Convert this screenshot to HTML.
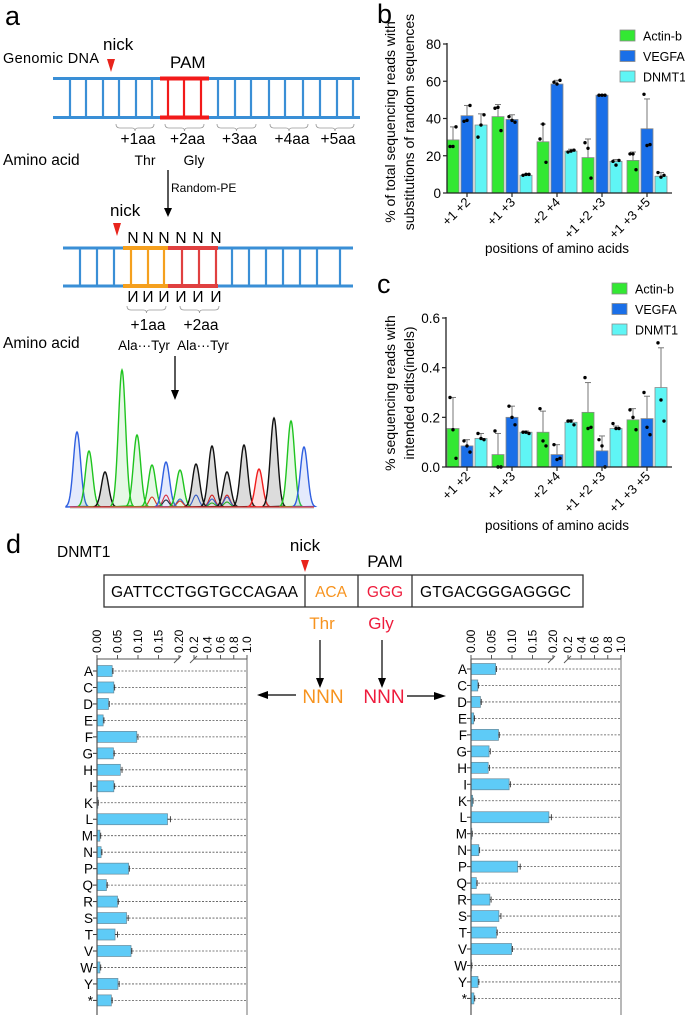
<!DOCTYPE html>
<html><head><meta charset="utf-8"><style>
html,body{margin:0;padding:0;background:#fff;}
svg{display:block;font-family:"Liberation Sans",Arial,sans-serif;}
</style></head><body>
<svg id="fig" width="685" height="1015" viewBox="0 0 685 1015" xmlns="http://www.w3.org/2000/svg">
<g id="pa">
<text x="5" y="25" font-size="27">a</text>
<text x="3" y="63" font-size="14.5" textLength="96">Genomic DNA</text>
<text x="103" y="50" font-size="17">nick</text>
<path d="M107,59 L115,59 L111,72 Z" fill="#e8241c"/>
<text x="170" y="68" font-size="17">PAM</text>
<text x="3" y="165" font-size="15.5">Amino acid</text>
<text x="145" y="165" font-size="14" text-anchor="middle">Thr</text>
<text x="194" y="165" font-size="14" text-anchor="middle">Gly</text>
<line x1="168" y1="170" x2="168" y2="210" stroke="#000" stroke-width="1.3"/>
<path d="M164,208 L172,208 L168,217 Z" fill="#000"/>
<text x="171" y="192" font-size="12">Random-PE</text>
<text x="110" y="216" font-size="17">nick</text>
<path d="M113,223 L121,223 L117,236 Z" fill="#e8241c"/>
<text x="3" y="348" font-size="15.5">Amino acid</text>
<text x="144" y="350" font-size="13.5" text-anchor="middle">Ala···Tyr</text>
<text x="203" y="350" font-size="13.5" text-anchor="middle">Ala···Tyr</text>
<text x="148" y="330" font-size="15.5" text-anchor="middle">+1aa</text>
<text x="201" y="330" font-size="15.5" text-anchor="middle">+2aa</text>
<line x1="175" y1="356" x2="175" y2="392" stroke="#000" stroke-width="1.3"/>
<path d="M171,390 L179,390 L175,400 Z" fill="#000"/>
<g id="dna1"></g>
<g id="dna2"></g>
<g id="chrom"></g>
</g>
<g id="pb">
<text x="377" y="23" font-size="27">b</text>
</g>
<g id="pc">
<text x="377" y="293" font-size="27">c</text>
</g>
<g id="pd">
<text x="6" y="553" font-size="27">d</text>
<text x="57" y="557" font-size="15.5">DNMT1</text>
<text x="305" y="551" font-size="17" text-anchor="middle">nick</text>
<path d="M301,560 L309,560 L305,572 Z" fill="#e8241c"/>
<text x="385" y="567" font-size="17" text-anchor="middle">PAM</text>
<rect x="104" y="575" width="479" height="32" fill="none" stroke="#333" stroke-width="1.3"/>
<line x1="305" y1="575" x2="305" y2="607" stroke="#333" stroke-width="1.3"/>
<line x1="358" y1="575" x2="358" y2="607" stroke="#333" stroke-width="1.3"/>
<line x1="412" y1="575" x2="412" y2="607" stroke="#333" stroke-width="1.3"/>
<text x="111" y="597" font-size="15.5" textLength="187">GATTCCTGGTGCCAGAA</text>
<text x="331" y="597" font-size="15.5" text-anchor="middle" fill="#f7931e">ACA</text>
<text x="385" y="597" font-size="15.5" text-anchor="middle" fill="#ee1c3c">GGG</text>
<text x="420" y="597" font-size="15.5" textLength="151">GTGACGGGAGGGC</text>
<text x="322" y="629" font-size="17" text-anchor="middle" fill="#f7931e">Thr</text>
<text x="381" y="629" font-size="17" text-anchor="middle" fill="#ee1c3c">Gly</text>
<line x1="320" y1="640" x2="320" y2="680" stroke="#000" stroke-width="1.2"/>
<path d="M316,678 L324,678 L320,688 Z" fill="#000"/>
<line x1="382" y1="640" x2="382" y2="680" stroke="#000" stroke-width="1.2"/>
<path d="M378,678 L386,678 L382,688 Z" fill="#000"/>
<text x="323" y="703" font-size="19" text-anchor="middle" fill="#f7931e">NNN</text>
<text x="384" y="703" font-size="19" text-anchor="middle" fill="#ee1c3c">NNN</text>
<line x1="296" y1="695" x2="266" y2="695" stroke="#000" stroke-width="1.2"/>
<path d="M268,691 L268,699 L257,695 Z" fill="#000"/>
<line x1="407" y1="696" x2="436" y2="696" stroke="#000" stroke-width="1.2"/>
<path d="M434,692 L434,700 L446,696 Z" fill="#000"/>
</g>
</svg>
<script>
// ---------- Panel b / c data ----------
var groups = ["+1 +2","+1 +3","+2 +4","+1 +2 +3","+1 +3 +5"];
var seriesNames = ["Actin-b","VEGFA","DNMT1"];
var bActin = [28.5,41,27.5,19,17.5];
var bVEGFA = [41.5,39.5,58.5,52.5,34.5];
var bDNMT1 = [36.5,9.5,22.5,17,9];
var bActinErr = [7,6.5,9.5,10,4.5];
var bVEGFAErr = [5.5,2.5,2,0.3,16];
var bDNMT1Err = [6,0.5,1,1,2];
var bActinDots = [[25,25,35.5],[45.5,46,33.5],[29,37,16.5],[27,24,8],[21,21,12.5]];
var bVEGFADots = [[38.5,39,47],[41,39,38],[59.5,58.5,60.5],[52.5,52.5,52.5],[53,25.5,26]];
var bDNMT1Dots = [[30,36.5,42],[9.5,10,10],[22,22.5,23],[17,15,17.5],[11,8.5,9.5]];
var bTicks = [0,20,40,60,80];
var cActin = [0.155,0.05,0.14,0.22,0.19];
var cVEGFA = [0.085,0.20,0.05,0.065,0.195];
var cDNMT1 = [0.115,0.14,0.18,0.155,0.32];
var cActinErr = [0.125,0.085,0.085,0.12,0.045];
var cVEGFAErr = [0.025,0.045,0.04,0.06,0.09];
var cDNMT1Err = [0.02,0.005,0.01,0.01,0.16];
var cActinDots = [[0.28,0.15,0.035],[0.145,0.0,0.0],[0.235,0.105,0.085],[0.36,0.155,0.16],[0.23,0.20,0.15]];
var cVEGFADots = [[0.105,0.085,0.06],[0.245,0.20,0.17],[0.09,0.03,0.035],[0.11,0.085,0.0],[0.30,0.16,0.13]];
var cDNMT1Dots = [[0.135,0.115,0.11],[0.14,0.14,0.135],[0.185,0.185,0.17],[0.175,0.155,0.155],[0.50,0.27,0.185]];
var cTicks = [0,0.2,0.4,0.6];
// ---------- Panel d data ----------
var aminoAcids = ["A","C","D","E","F","G","H","I","K","L","M","N","P","Q","R","S","T","V","W","Y","*"];
var dLeft = [0.037,0.041,0.028,0.015,0.097,0.040,0.057,0.041,0.002,0.172,0.007,0.010,0.077,0.023,0.050,0.072,0.044,0.083,0.007,0.051,0.035];
var dLeftErr = [0.002,0.002,0.002,0.002,0.003,0.002,0.004,0.002,0.001,0.007,0.002,0.002,0.002,0.002,0.002,0.004,0.006,0.002,0.002,0.003,0.002];
var dRight = [0.060,0.0165,0.023,0.0066,0.067,0.044,0.042,0.093,0.004,0.19,0.002,0.019,0.114,0.013,0.046,0.068,0.062,0.099,0.001,0.017,0.007];
var dRightErr = [0.002,0.002,0.002,0.002,0.002,0.003,0.003,0.003,0.001,0.006,0.001,0.002,0.006,0.002,0.003,0.005,0.002,0.002,0.001,0.002,0.002];
var dTicksLow = ["0.00","0.05","0.10","0.15","0.20"];
var dTicksHigh = ["0.2","0.4","0.6","0.8","1.0"];
// ---------- Chromatogram peaks ----------
var peakPos = [77,89,105,122,137,152,166,180,196,212,227,244,259,274,291,304];
var peakHeight = [75,56,35,137,72,42,45,37,43,61,35,62,38,89,86,60];
var peakBase = ["A","G","K","G","G","G","A","G","K","K","K","K","R","K","G","A"];

var NS="http://www.w3.org/2000/svg";
function mk(parent, tag, attrs, txt){
  var e=document.createElementNS(NS,tag);
  for(var k in attrs) e.setAttribute(k,attrs[k]);
  if(txt!==undefined) e.textContent=txt;
  parent.appendChild(e);
  return e;
}
var el;
(function(){
  var g=document.getElementById('dna1');
  var blue="#3a8fd6";
  el=mk(g,'line',{x1:53,y1:78.5,x2:360,y2:78.5,stroke:blue,'stroke-width':3});
  
  
  el=mk(g,'line',{x1:53,y1:117.5,x2:360,y2:117.5,stroke:blue,'stroke-width':3});
  
  
  var rungs=[70,86,103,119,136,152,168,184,201,218,235,251,269,285,303,320,337,353];
  rungs.forEach(function(x,i){
    el=mk(g,'line',{x1:x,y1:78.5,x2:x,y2:117.5,stroke:(i>=6&&i<=8)?"#f21a1a":blue,'stroke-width':2.2});
    
    
  });
  mk(g,'rect',{x:160,y:76.5,width:49,height:4,fill:"#f21a1a"});
  mk(g,'rect',{x:160,y:115.5,width:49,height:4,fill:"#f21a1a"});
  var br=[[116,154],[165,204],[217,256],[270,308],[316,354]];
  var lab=["+1aa","+2aa","+3aa","+4aa","+5aa"];
  br.forEach(function(b,i){
    var m=(b[0]+b[1])/2;
    mk(g,'path',{d:"M"+b[0]+",124 Q"+b[0]+",128 "+(b[0]+4)+",128 L"+(m-3)+",128 Q"+m+",128 "+m+",131 Q"+m+",128 "+(m+3)+",128 L"+(b[1]-4)+",128 Q"+b[1]+",128 "+b[1]+",124",fill:"none",stroke:"#999",'stroke-width':0.8});
    el=mk(g,'text',{x:m+3,y:144,'font-size':15.5,'text-anchor':'middle'},lab[i]);
    
    
  });
  var g2=document.getElementById('dna2');
  mk(g2,'line',{x1:63,y1:248,x2:353,y2:248,stroke:blue,'stroke-width':3});
  mk(g2,'line',{x1:63,y1:286,x2:353,y2:286,stroke:blue,'stroke-width':3});
  mk(g2,'rect',{x:123,y:246,width:45,height:4,fill:"#f5a01e"});
  mk(g2,'rect',{x:123,y:284,width:45,height:4,fill:"#f5a01e"});
  mk(g2,'rect',{x:168,y:246,width:50,height:4,fill:"#e04040"});
  mk(g2,'rect',{x:168,y:284,width:50,height:4,fill:"#e04040"});
  var r2=[80,97,114,131,148,164,182,199,216,232,249,266,283,300,317,340];
  r2.forEach(function(x){
    var c=blue; if(x>=125&&x<=166)c="#f5a01e"; else if(x>=170&&x<=216)c="#e04040";
    el=mk(g2,'line',{x1:x,y1:248,x2:x,y2:286,stroke:c,'stroke-width':2.2});
    
    
  });
  [133,148,164,181,198,216].forEach(function(x){
    el=mk(g2,'text',{x:x,y:243,'font-size':15.5,'text-anchor':'middle'},"N");
    
    
    el=mk(g2,'text',{x:x,y:302,'font-size':15.5,'text-anchor':'middle'},"И");
    
    
  });
  [[127,166],[180,219]].forEach(function(b){
    var m=(b[0]+b[1])/2;
    mk(g2,'path',{d:"M"+b[0]+",306 Q"+b[0]+",310 "+(b[0]+4)+",310 L"+(m-3)+",310 Q"+m+",310 "+m+",313 Q"+m+",310 "+(m+3)+",310 L"+(b[1]-4)+",310 Q"+b[1]+",310 "+b[1]+",306",fill:"none",stroke:"#999",'stroke-width':0.8});
  });
})();
(function(){
  var g=document.getElementById('chrom');
  var base=507;
  var col={A:"#2f5fe0",G:"#1fc41f",K:"#111",R:"#f01d1d"};
  var fillc={A:"rgba(120,150,240,0.2)",G:"rgba(60,200,60,0.13)",K:"rgba(80,80,80,0.2)",R:"rgba(240,60,60,0.15)"};
  [[152,"R",10],[166,"R",12],[180,"A",8],[196,"A",12],[212,"R",12],[227,"R",12],[166,"K",7],[180,"R",6],[212,"A",8],[227,"A",10],[212,"G",4],[227,"G",5]].forEach(function(p){
    var d="M"+(p[0]-10)+","+base;
    for(var t=-10;t<=10;t+=1){d+=" L"+(p[0]+t)+","+(base-p[2]*Math.exp(-t*t/18)).toFixed(1);}
    mk(g,'path',{d:d,fill:"none",stroke:col[p[1]],'stroke-width':1.1});
  });
  for(var i=0;i<peakPos.length;i++){
    var x0=peakPos[i],h=peakHeight[i],b=peakBase[i];
    var d="M"+(x0-11)+","+base;
    for(var t=-11;t<=11;t+=0.5){d+=" L"+(x0+t)+","+(base-h*Math.exp(-t*t/(2*3.6*3.6))).toFixed(1);}
    el=mk(g,'path',{d:d+" Z",fill:fillc[b],stroke:col[b],'stroke-width':1.4});
    
    
  }
  mk(g,'line',{x1:70,y1:base,x2:314,y2:base,stroke:"#e33",'stroke-width':1.2});
  mk(g,'line',{x1:70,y1:base+1,x2:314,y2:base+1,stroke:"#bbb",'stroke-width':1});
})();
var colors=["#33e833","#1a6fe8","#5ff5f5"];
function barChart(gid,opt){
  var g=document.getElementById(gid);
  var x0=opt.x0,y0=opt.y0,yTop=opt.yTop,ymax=opt.ymax;
  function Y(v){return y0-(v/ymax)*(y0-yTop);}
  var gc=[467,512,557,602,647];
  function X(i){return gc[0]+i*(gc[4]-gc[0])/4;}
  var off=[-14,0,14],bw=12;
  var vals=opt.vals,errs=opt.errs,dots=opt.dots;
  for(var s=0;s<3;s++){
    for(var i=0;i<groups.length;i++){
      var cx=X(i)+off[s];
      el=mk(g,'rect',{x:cx-bw/2,y:Y(vals[s][i]),width:bw,height:y0-Y(vals[s][i]),fill:colors[s],stroke:"#8a8a8a",'stroke-width':0.8});
      
      
      var et=Y(vals[s][i]+errs[s][i]);
      mk(g,'line',{x1:cx,y1:Y(vals[s][i]),x2:cx,y2:et,stroke:"#777",'stroke-width':1});
      mk(g,'line',{x1:cx-3,y1:et,x2:cx+3,y2:et,stroke:"#777",'stroke-width':1});
      dots[s][i].forEach(function(v,k){
        el=mk(g,'circle',{cx:cx+[-3,0,3][k],cy:Y(v),r:1.7,fill:"#000"});
        
        
      });
    }
  }
  mk(g,'line',{x1:x0,y1:yTop-1,x2:x0,y2:y0,stroke:"#222",'stroke-width':1.3});
  mk(g,'line',{x1:x0,y1:y0,x2:672,y2:y0,stroke:"#222",'stroke-width':1.3});
  opt.ticks.forEach(function(t,k){
    mk(g,'line',{x1:x0-4,y1:Y(t),x2:x0,y2:Y(t),stroke:"#222",'stroke-width':1.2});
    el=mk(g,'text',{x:x0-6,y:Y(t)+5,'font-size':13.5,'text-anchor':'end'},opt.tickLabels[k]);
    
    
  });
  groups.forEach(function(gr,i){
    mk(g,'line',{x1:X(i),y1:y0,x2:X(i),y2:y0+4,stroke:"#222",'stroke-width':1.2});
    el=mk(g,'text',{x:X(i)+4,y:y0+10,'font-size':13,'text-anchor':'end',transform:"rotate(-45 "+(X(i)+4)+" "+(y0+10)+")"},gr);
    
    
  });
  el=mk(g,'text',{x:557,y:opt.xlabY,'font-size':13.5,'text-anchor':'middle'},"positions of amino acids");
  
  
  opt.ylab.forEach(function(l,k){
    var xx=395+k*19;
    el=mk(g,'text',{x:xx,y:opt.ylabY,'font-size':14,'text-anchor':'middle',transform:"rotate(-90 "+xx+" "+opt.ylabY+")"},l);
    
    
  });
  seriesNames.forEach(function(n,s){
    var ly=opt.legY+s*20.5;
    el=mk(g,'rect',{x:opt.legX,y:ly-6,width:15,height:11,fill:colors[s],stroke:"#8a8a8a",'stroke-width':0.8});
    
    
    el=mk(g,'text',{x:opt.legX+23,y:ly+4.5,'font-size':12.5},n);
    
    
  });
}
barChart('pb',{x0:447,y0:193,yTop:44,ymax:80,vals:[bActin,bVEGFA,bDNMT1],errs:[bActinErr,bVEGFAErr,bDNMT1Err],dots:[bActinDots,bVEGFADots,bDNMT1Dots],ticks:bTicks,tickLabels:bTicks.map(String),xlabY:253,ylab:["% of total sequencing reads with","substitutions of random sequences"],ylabY:122,legX:620,legY:36});
barChart('pc',{x0:446,y0:467,yTop:318,ymax:0.6,vals:[cActin,cVEGFA,cDNMT1],errs:[cActinErr,cVEGFAErr,cDNMT1Err],dots:[cActinDots,cVEGFADots,cDNMT1Dots],ticks:cTicks,tickLabels:cTicks.map(function(t){return t.toFixed(1);}),xlabY:530,ylab:["% sequencing reads with","intended edits(indels)"],ylabY:393,legX:612,legY:289});
function dChart(ax,rowY0,vals,errs,name){
  var g=document.getElementById('pd');
  var seg1=82, gapStart=ax+97, right=ax+150, top=659;
  function X(v){ if(v<=0.2) return ax+v/0.2*seg1; return gapStart+(v-0.2)/0.8*(right-gapStart);}
  var gg=mk(g,'g',{});
  
  
  var sp=16.47;
  aminoAcids.forEach(function(a,i){
    var y=rowY0+i*sp;
    mk(gg,'line',{x1:ax,y1:y,x2:right,y2:y,stroke:"#555",'stroke-width':0.8,'stroke-dasharray':"2,1.5"});
    var xe=X(vals[i]);
    el=mk(gg,'rect',{x:ax,y:y-5.5,width:Math.max(xe-ax,0.5),height:11,fill:"#5ecbf7",stroke:"#6a8a9a",'stroke-width':0.7});
    
    
    var xr=X(vals[i]+errs[i]);
    mk(gg,'line',{x1:xe,y1:y,x2:xr,y2:y,stroke:"#333",'stroke-width':0.9});
    mk(gg,'line',{x1:xr,y1:y-3,x2:xr,y2:y+3,stroke:"#333",'stroke-width':0.9});
    mk(gg,'line',{x1:ax-4,y1:y,x2:ax,y2:y,stroke:"#333",'stroke-width':1});
    el=mk(gg,'text',{x:ax-4,y:y+5,'font-size':13.5,'text-anchor':'end'},a);
    
    
  });
  mk(gg,'line',{x1:ax,y1:top,x2:ax,y2:1015,stroke:"#555",'stroke-width':1.2});
  mk(gg,'line',{x1:right,y1:top,x2:right,y2:1015,stroke:"#888",'stroke-width':1.2});
  mk(gg,'line',{x1:ax,y1:top,x2:ax+seg1,y2:top,stroke:"#555",'stroke-width':1.1});
  mk(gg,'line',{x1:gapStart,y1:top,x2:right,y2:top,stroke:"#555",'stroke-width':1.1});
  mk(gg,'line',{x1:ax+seg1-5,y1:top+4,x2:ax+seg1+2,y2:top-3,stroke:"#555",'stroke-width':0.9});
  mk(gg,'line',{x1:gapStart-4,y1:top+4,x2:gapStart+3,y2:top-3,stroke:"#555",'stroke-width':0.9});
  dTicksLow.forEach(function(t){
    var x=X(parseFloat(t));
    mk(gg,'line',{x1:x,y1:top-4,x2:x,y2:top,stroke:"#555",'stroke-width':1});
    el=mk(gg,'text',{x:x+4,y:top-6,'font-size':12,transform:"rotate(-90 "+(x+4)+" "+(top-6)+")"},t);
    
    
  });
  dTicksHigh.forEach(function(t){
    var v=parseFloat(t);
    var x=gapStart+(v-0.2)/0.8*(right-gapStart);
    mk(gg,'line',{x1:x,y1:top-4,x2:x,y2:top,stroke:"#555",'stroke-width':1});
    el=mk(gg,'text',{x:x+4,y:top-6,'font-size':12,transform:"rotate(-90 "+(x+4)+" "+(top-6)+")"},t);
    
    
  });
}
dChart(97,671,dLeft,dLeftErr,'thr-substitution-chart');
dChart(471,669,dRight,dRightErr,'gly-substitution-chart');
</script>
</body></html>
